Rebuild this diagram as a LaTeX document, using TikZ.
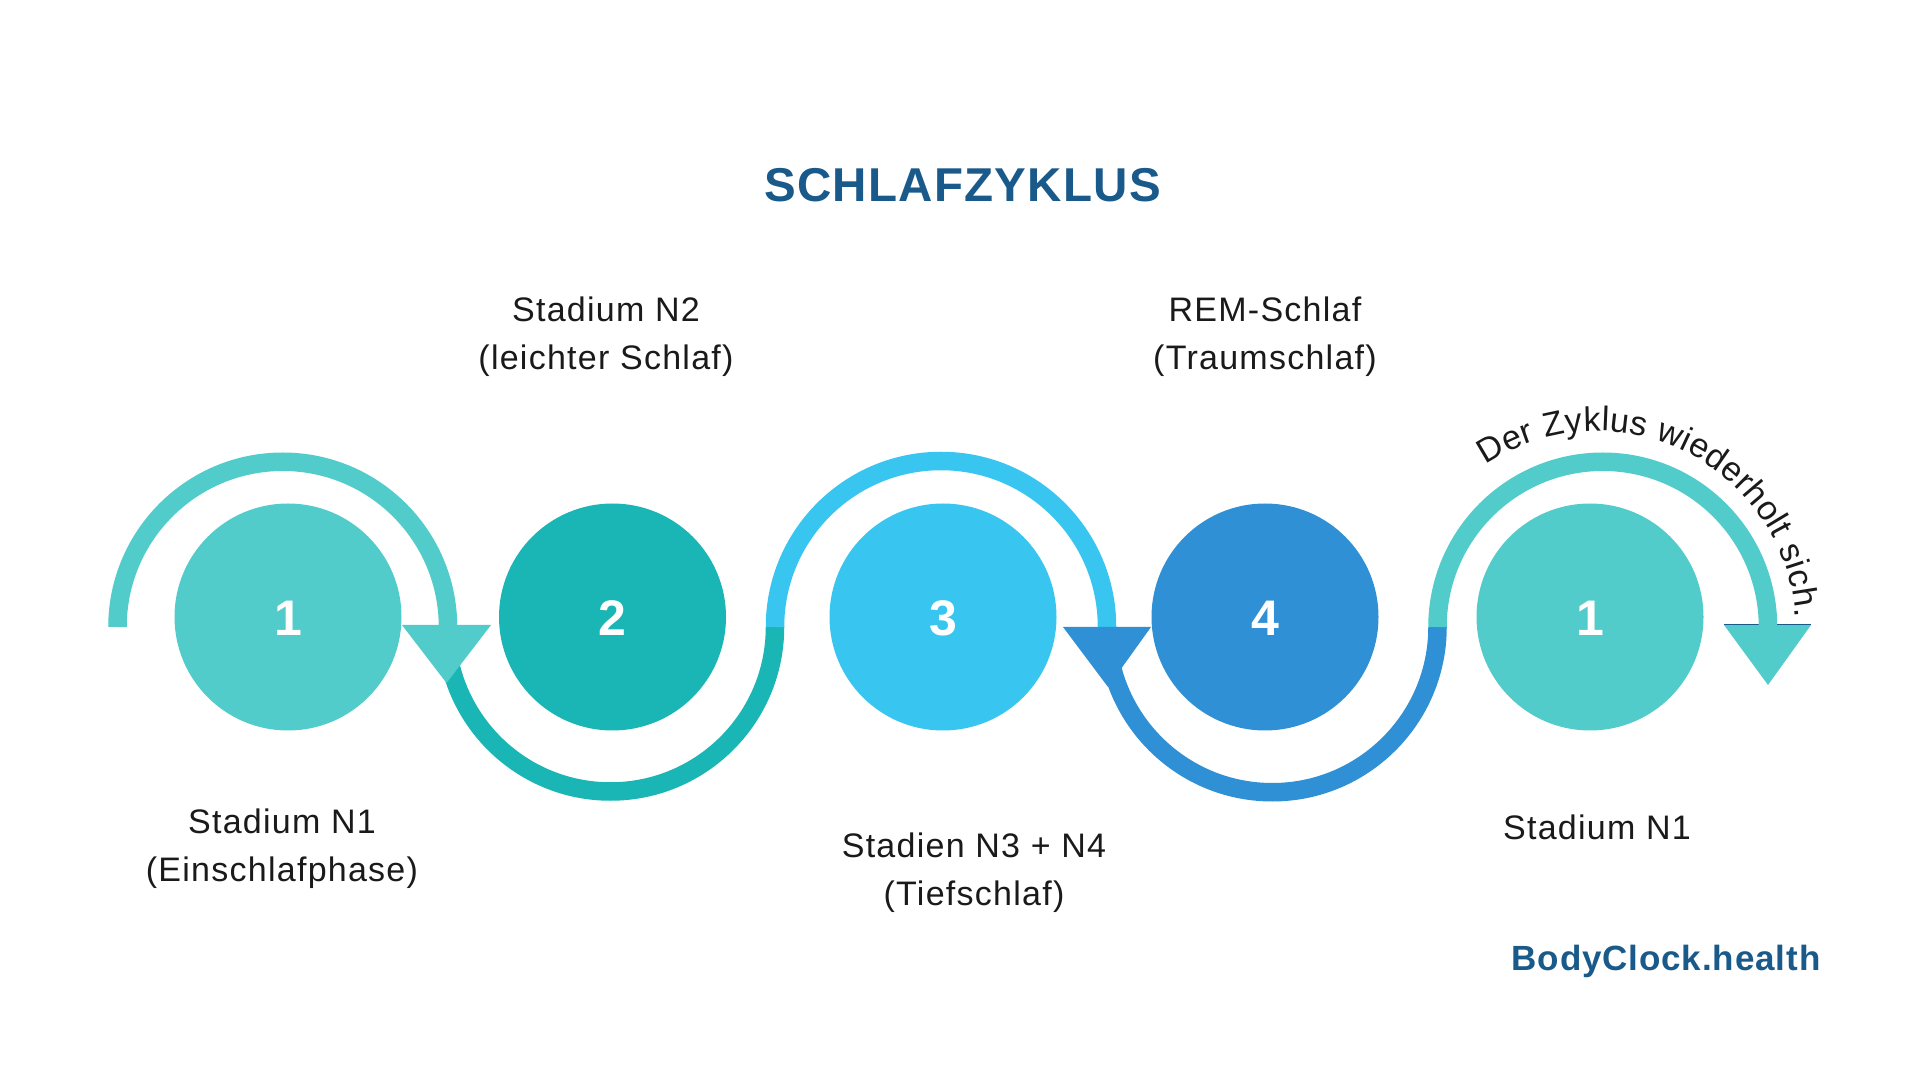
\documentclass[tikz,border=0pt]{standalone}
\usepackage{fontspec}
\usetikzlibrary{decorations.text}
\setmainfont{Liberation Sans}
\newfontfamily\labelfont[LetterSpace=3.7]{Liberation Sans}
\newfontfamily\titlefont[LetterSpace=2.7]{Liberation Sans Bold}
\newfontfamily\brandfont[LetterSpace=2.5]{Liberation Sans Bold}
\definecolor{cOne}{HTML}{52CCCB}
\definecolor{cTwo}{HTML}{1AB5B5}
\definecolor{cThree}{HTML}{38C6F0}
\definecolor{cFour}{HTML}{2F90D5}
\definecolor{cTitle}{HTML}{1A5A8A}
\definecolor{cText}{HTML}{1A1A1A}
\tikzset{
  disc/.style={circle,minimum size=227pt,inner sep=0pt},
  digit/.style={text=white,font=\fontsize{50}{50}\selectfont\bfseries,inner sep=0pt},
  band/.style={line width=18.5pt,line cap=butt},
  lab/.style={font=\fontsize{34}{48}\selectfont\labelfont,text=cText,align=center,inner sep=0pt},
}
\begin{document}
\begin{tikzpicture}[x=1pt,y=1pt]
\useasboundingbox[fill=white] (0,0) rectangle (1920,1080);
% circles
\node[disc,fill=cOne]   (c1) at (288,463) {};
\node[disc,fill=cTwo]   (c2) at (612.5,463) {};
\node[disc,fill=cThree] (c3) at (943,463) {};
\node[disc,fill=cFour]  (c4) at (1265,463) {};
\node[disc,fill=cOne]   (c5) at (1590,463) {};
% digits
\node[digit] (d1) at (288.5,462) {1};
\node[digit] (d2) at (612.5,462) {2};
\node[digit] (d3) at (943,462) {3};
\node[digit] (d4) at (1265,462) {4};
\node[digit] (d5) at (1590,462) {1};
% band anchors
\coordinate (p0) at (117.5,453);
\coordinate (p1) at (446,453);
\coordinate (p2) at (775,453);
\coordinate (p3) at (1107,453);
\coordinate (p4) at (1437.5,453);
% bands
\draw[band,cTwo]   (p1) arc[start angle=180,end angle=360,radius=164.5pt];
\draw[band,cFour]  (p3) arc[start angle=180,end angle=360,radius=165.25pt];
\draw[band,cOne]   (p0) arc[start angle=180,end angle=0,radius=165.25pt];
\draw[band,cThree] (p2) arc[start angle=180,end angle=0,radius=166pt];
% arrowheads
\fill[cOne]  (402,455) -- (491,455) -- (446.5,397) -- cycle;
\fill[cFour] (1063,453) -- (1151,453) -- (1108,393) -- cycle;
\fill[cOne]  (1724,455) -- (1811,455) -- (1768,395) -- cycle;
\draw[cTitle,line width=1pt] (1724,455) -- (1811,455);
\draw[band,cOne] (p4) arc[start angle=180,end angle=0,radius=165.25pt];
% curved text
\path[decorate,decoration={text along path,text align={fit to path},
  text={|\fontsize{34}{34}\selectfont\color{cText}|Der Zyklus wiederholt sich.}}]
  (1597,450) ++(124:199pt) arc[start angle=124,end angle=3.5,radius=199pt];
% labels
\node[font=\fontsize{47.5}{47.5}\selectfont\titlefont,text=cTitle,inner sep=0pt,anchor=base] (title) at (962.5,878) {SCHLAFZYKLUS};
\node[lab] (l2) at (606,743.5) {Stadium N2\\(leichter Schlaf)};
\node[lab] (l4) at (1265,743.5) {REM-Schlaf\\(Traumschlaf)};
\node[lab] (l1) at (282,231) {Stadium N1\\(Einschlafphase)};
\node[lab] (l3) at (974,207.5) {Stadien N3 + N4\\(Tiefschlaf)};
\node[lab,anchor=base] (l5) at (1597,241) {Stadium N1};
\node[font=\fontsize{35}{35}\selectfont\brandfont,text=cTitle,inner sep=0pt,anchor=base] (brand) at (1666,110) {BodyClock.health};
\end{tikzpicture}
\end{document}
